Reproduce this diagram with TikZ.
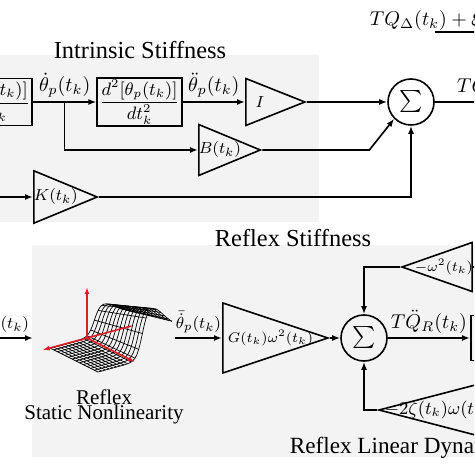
\documentclass[tikz,border=0pt]{standalone}
\usepackage[no-math]{fontspec}
\setmainfont{Liberation Serif}
\usepackage{amsmath, amssymb}
\usepackage{tikz}
\usetikzlibrary{positioning, arrows.meta, shapes.geometric, calc}
\usepackage{xcolor}
\definecolor{panelgray}{RGB}{243, 243, 243}
\definecolor{axisred}{RGB}{222, 30, 40}

\tikzset{
  sig/.style={-{Latex[length=4pt, width=3pt]}},
  title/.style={font=\fontsize{12.2}{14}\selectfont, inner sep=0pt},
  lab/.style={font=\fontsize{10}{12}\selectfont, inner sep=2pt},
  smalllab/.style={font=\fontsize{8.5}{10}\selectfont, inner sep=2pt},
  gainlab/.style={font=\fontsize{7.2}{9}\selectfont, inner sep=1pt},
  blockbox/.style={draw, minimum width=34.5pt, minimum height=23.5pt,
                   inner sep=1pt, font=\fontsize{9}{10}\selectfont},
  % minimum width = base, minimum height = length to the apex
  gain/.style={draw, isosceles triangle, isosceles triangle stretches,
               inner sep=0pt, font=\fontsize{8}{10}\selectfont},
  sumnode/.style={draw, circle, minimum size=23pt, inner sep=0pt,
                  font=\fontsize{11}{12}\selectfont},
  meshline/.style={line width=0.35pt, black},
  axisarrow/.style={axisred, line width=0.8pt, -{Latex[length=3.5pt, width=2.5pt]}}
}

\begin{document}
\begin{tikzpicture}[x=0.5pt, y=-0.5pt, line width=0.8pt,
    declare function={sg(\v)=1/(1+exp(-max(min(\v,9),-9)));
                      hump(\a,\b)=(0.75+0.5*\a)*(44*sg(25*(\b-0.6))-24*sg(12*(\b-0.88)));}]
  \useasboundingbox (0,0) rectangle (474,474);
  \clip (0,0) rectangle (474,474);

  % panels
  \fill[panelgray] (-5,55) rectangle (319,222);
  \fill[panelgray] (32,245) rectangle (480,457);

  % intrinsic stiffness
  \node[title] (intr) at (140,50) {Intrinsic Stiffness};
  \node[blockbox, anchor=east] (dbox1) at (33,102) {$\dfrac{d[\theta_p(t_k)]}{dt_k}$};
  \node[blockbox] (dbox2) at (139.5,102) {$\dfrac{d^2[\theta_p(t_k)]}{dt_k^2}$};
  \node[gain, minimum width=23.5pt, minimum height=29.5pt, anchor=west]
        (igain) at (245,102) {$I$};
  \node[gain, minimum width=23.5pt, minimum height=29.5pt, anchor=west]
        (bgain) at (198,150) {$B(t_k)$};
  \node[gain, minimum width=23.5pt, minimum height=29.5pt, anchor=west]
        (kgain) at (33,197) {$K(t_k)$};
  \node[sumnode] (sumI) at (411,102) {$\sum$};

  \coordinate (br1) at ($(dbox1.east)!0.5!(dbox2.west)$);
  \coordinate (kin) at (-20,197);
  \coordinate (iout) at (500,102);
  \draw[sig] (dbox1.east) -- (dbox2.west) node[midway, above, lab] {$\dot\theta_p(t_k)$};
  \draw[sig] (br1) |- (bgain.west);
  \draw[sig] (dbox2.east) -- (igain.west) node[midway, above, lab] {$\ddot\theta_p(t_k)$};
  \draw[sig] (igain.east) -- (sumI.west);
  \draw[sig] (bgain.east) -- ++(107,0) -- (sumI.225);
  \draw[sig] (kin) -- (kgain.west);
  \draw[sig] (kgain.east) -| (sumI.south);
  \draw (sumI.east) -- (iout) node[pos=0.27, anchor=south west, lab] {$TQ_I(t_k)$};

  % total torque
  \node[lab, anchor=west] (tqd) at (365,21) {$TQ_\Delta(t_k)+\xi$};
  \coordinate (ubar1) at (435,32);
  \coordinate (ubar2) at (480,32);
  \draw (ubar1) -- (ubar2);

  % reflex stiffness
  \node[title] (refl) at (293,238) {Reflex Stiffness};

  % static nonlinearity surface
  \begin{scope}[shift={(50,348)}, x={(24pt,-12pt)}, y={(37pt,10pt)}, z={(0pt,0.5pt)}]
    \foreach \i in {0,...,13}{
      \draw[meshline] plot[domain=0:1, samples=41, variable=\t]
            ({\i/13}, \t, {hump(\i/13,\t)});
    }
    \foreach \j in {0,...,20}{
      \draw[meshline] (0, {\j/20}, {hump(0,\j/20)}) -- (1, {\j/20}, {hump(1,\j/20)});
    }
    \draw[axisred, line width=0.8pt] (0,0.5,0) -- (0,1.1,0);
    \draw[axisarrow] (0,0.5,0) -- (0,0.5,51);
    \draw[axisarrow] (0,0.5,0) -- (0,-0.1,0);
    \draw[axisarrow] (0,0.5,0) -- (1.0,0.5,0);
  \end{scope}
  \node[title, align=center, font=\fontsize{10.5}{7.5}\selectfont]
        (snl) at (104,407) {Reflex\\Static Nonlinearity};

  % reflex linear dynamics
  \node[gain, minimum width=35pt, minimum height=52.5pt, anchor=west,
        label={[gainlab, anchor=west, xshift=1.5pt]west:$G(t_k)\omega^2(t_k)$}]
        (ggain) at (222,338) {};
  \node[sumnode] (sumR) at (364,338) {$\sum$};
  \node[blockbox, anchor=west, minimum height=22.5pt] (rbox) at (470,338) {};
  \node[gain, shape border rotate=180, minimum width=24.5pt, minimum height=35pt,
        anchor=west, label={[gainlab, anchor=west, xshift=6pt]west:$-\omega^2(t_k)$}]
        (wgain) at (400,267) {};
  \node[gain, shape border rotate=180, minimum width=39pt, minimum height=75pt,
        anchor=west, label={[gainlab, anchor=west, xshift=2.5pt, font=\fontsize{8.6}{10}\selectfont]west:$-2\zeta(t_k)\omega(t_k)$}]
        (zgain) at (377,410) {};
  \node[title, anchor=west, font=\fontsize{11.6}{14}\selectfont]
        (rld) at (289,448) {Reflex Linear Dynamics};

  \coordinate (snin) at (33,338);
  \coordinate (snout) at (175,338);
  \coordinate (rin) at (-20,338);
  \coordinate (wfb) at (500,267);
  \draw[sig] (rin) -- (snin) node[midway, above, smalllab] {$\dot\theta_p(t_k)$};
  \draw[sig] (snout) -- (ggain.west) node[midway, above, smalllab] {$\bar{\dot\theta}_p(t_k)$};
  \draw[sig] (ggain.east) -- (sumR.west);
  \draw[sig] (sumR.east) -- (rbox.west) node[midway, above, lab] {$T\ddot Q_R(t_k)$};
  \draw (wfb) -- (wgain.east);
  \draw[sig] (wgain.west) -| (sumR.north);
  \draw[sig] (zgain.west) -| (sumR.south);
\end{tikzpicture}
\end{document}
